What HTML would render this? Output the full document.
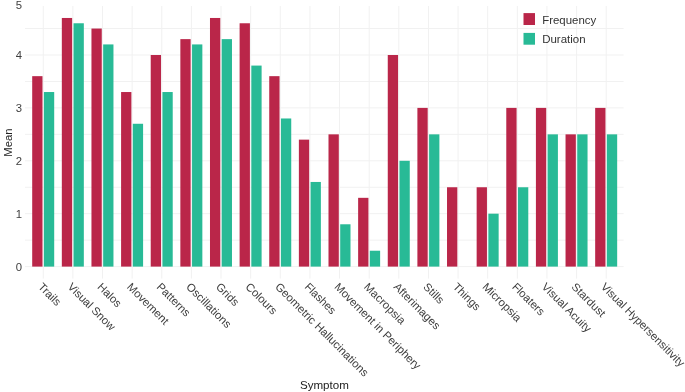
<!DOCTYPE html>
<html lang="en"><head><meta charset="utf-8"><title>Symptom chart</title>
<style>html,body{margin:0;padding:0;background:#fff;}body{width:685px;height:392px;overflow:hidden;}svg{display:block;}</style>
</head><body>
<svg width="685" height="392" viewBox="0 0 685 392" font-family="'Liberation Sans', sans-serif" font-size="11.3">
<rect width="685" height="392" fill="#fff"/>
<g stroke="#f1f1f1" stroke-width="1" fill="none">
<line x1="43.25" y1="6" x2="43.25" y2="278.6"/>
<line x1="72.88" y1="6" x2="72.88" y2="278.6"/>
<line x1="102.51" y1="6" x2="102.51" y2="278.6"/>
<line x1="132.14" y1="6" x2="132.14" y2="278.6"/>
<line x1="161.77" y1="6" x2="161.77" y2="278.6"/>
<line x1="191.40" y1="6" x2="191.40" y2="278.6"/>
<line x1="221.03" y1="6" x2="221.03" y2="278.6"/>
<line x1="250.66" y1="6" x2="250.66" y2="278.6"/>
<line x1="280.29" y1="6" x2="280.29" y2="278.6"/>
<line x1="309.92" y1="6" x2="309.92" y2="278.6"/>
<line x1="339.55" y1="6" x2="339.55" y2="278.6"/>
<line x1="369.18" y1="6" x2="369.18" y2="278.6"/>
<line x1="398.81" y1="6" x2="398.81" y2="278.6"/>
<line x1="428.44" y1="6" x2="428.44" y2="278.6"/>
<line x1="458.07" y1="6" x2="458.07" y2="278.6"/>
<line x1="487.70" y1="6" x2="487.70" y2="278.6"/>
<line x1="517.33" y1="6" x2="517.33" y2="278.6"/>
<line x1="546.96" y1="6" x2="546.96" y2="278.6"/>
<line x1="576.59" y1="6" x2="576.59" y2="278.6"/>
<line x1="606.22" y1="6" x2="606.22" y2="278.6"/>
<line x1="25" y1="266.60" x2="623.6" y2="266.60"/>
<line x1="25" y1="240.15" x2="623.6" y2="240.15"/>
<line x1="25" y1="213.70" x2="623.6" y2="213.70"/>
<line x1="25" y1="187.25" x2="623.6" y2="187.25"/>
<line x1="25" y1="160.80" x2="623.6" y2="160.80"/>
<line x1="25" y1="134.35" x2="623.6" y2="134.35"/>
<line x1="25" y1="107.90" x2="623.6" y2="107.90"/>
<line x1="25" y1="81.45" x2="623.6" y2="81.45"/>
<line x1="25" y1="55.00" x2="623.6" y2="55.00"/>
<line x1="25" y1="28.55" x2="623.6" y2="28.55"/>
</g>
<g>
<rect x="32.20" y="76.16" width="10.3" height="190.44" fill="#ba2649"/>
<rect x="43.90" y="92.03" width="10.3" height="174.57" fill="#28ba96"/>
<rect x="61.83" y="17.97" width="10.3" height="248.63" fill="#ba2649"/>
<rect x="73.53" y="23.26" width="10.3" height="243.34" fill="#28ba96"/>
<rect x="91.46" y="28.55" width="10.3" height="238.05" fill="#ba2649"/>
<rect x="103.16" y="44.42" width="10.3" height="222.18" fill="#28ba96"/>
<rect x="121.09" y="92.03" width="10.3" height="174.57" fill="#ba2649"/>
<rect x="132.79" y="123.77" width="10.3" height="142.83" fill="#28ba96"/>
<rect x="150.72" y="55.00" width="10.3" height="211.60" fill="#ba2649"/>
<rect x="162.42" y="92.03" width="10.3" height="174.57" fill="#28ba96"/>
<rect x="180.35" y="39.13" width="10.3" height="227.47" fill="#ba2649"/>
<rect x="192.05" y="44.42" width="10.3" height="222.18" fill="#28ba96"/>
<rect x="209.98" y="17.97" width="10.3" height="248.63" fill="#ba2649"/>
<rect x="221.68" y="39.13" width="10.3" height="227.47" fill="#28ba96"/>
<rect x="239.61" y="23.26" width="10.3" height="243.34" fill="#ba2649"/>
<rect x="251.31" y="65.58" width="10.3" height="201.02" fill="#28ba96"/>
<rect x="269.24" y="76.16" width="10.3" height="190.44" fill="#ba2649"/>
<rect x="280.94" y="118.48" width="10.3" height="148.12" fill="#28ba96"/>
<rect x="298.87" y="139.64" width="10.3" height="126.96" fill="#ba2649"/>
<rect x="310.57" y="181.96" width="10.3" height="84.64" fill="#28ba96"/>
<rect x="328.50" y="134.35" width="10.3" height="132.25" fill="#ba2649"/>
<rect x="340.20" y="224.28" width="10.3" height="42.32" fill="#28ba96"/>
<rect x="358.13" y="197.83" width="10.3" height="68.77" fill="#ba2649"/>
<rect x="369.83" y="250.73" width="10.3" height="15.87" fill="#28ba96"/>
<rect x="387.76" y="55.00" width="10.3" height="211.60" fill="#ba2649"/>
<rect x="399.46" y="160.80" width="10.3" height="105.80" fill="#28ba96"/>
<rect x="417.39" y="107.90" width="10.3" height="158.70" fill="#ba2649"/>
<rect x="429.09" y="134.35" width="10.3" height="132.25" fill="#28ba96"/>
<rect x="447.02" y="187.25" width="10.3" height="79.35" fill="#ba2649"/>
<rect x="476.65" y="187.25" width="10.3" height="79.35" fill="#ba2649"/>
<rect x="488.35" y="213.70" width="10.3" height="52.90" fill="#28ba96"/>
<rect x="506.28" y="107.90" width="10.3" height="158.70" fill="#ba2649"/>
<rect x="517.98" y="187.25" width="10.3" height="79.35" fill="#28ba96"/>
<rect x="535.91" y="107.90" width="10.3" height="158.70" fill="#ba2649"/>
<rect x="547.61" y="134.35" width="10.3" height="132.25" fill="#28ba96"/>
<rect x="565.54" y="134.35" width="10.3" height="132.25" fill="#ba2649"/>
<rect x="577.24" y="134.35" width="10.3" height="132.25" fill="#28ba96"/>
<rect x="595.17" y="107.90" width="10.3" height="158.70" fill="#ba2649"/>
<rect x="606.87" y="134.35" width="10.3" height="132.25" fill="#28ba96"/>
</g>
<g fill="#3e3e3e" text-anchor="end">
<text x="22.1" y="270.50">0</text>
<text x="22.1" y="217.60">1</text>
<text x="22.1" y="164.70">2</text>
<text x="22.1" y="111.80">3</text>
<text x="22.1" y="58.90">4</text>
<text x="22.1" y="8.70">5</text>
</g>
<g fill="#3e3e3e">
<text x="37.40" y="287.50" transform="rotate(45 37.40 287.50)" textLength="26.98" lengthAdjust="spacingAndGlyphs">Trails</text>
<text x="67.03" y="287.50" transform="rotate(45 67.03 287.50)" textLength="61.72" lengthAdjust="spacingAndGlyphs">Visual Snow</text>
<text x="96.66" y="287.50" transform="rotate(45 96.66 287.50)" textLength="28.87" lengthAdjust="spacingAndGlyphs">Halos</text>
<text x="126.29" y="287.50" transform="rotate(45 126.29 287.50)" textLength="53.60" lengthAdjust="spacingAndGlyphs">Movement</text>
<text x="155.92" y="287.50" transform="rotate(45 155.92 287.50)" textLength="42.27" lengthAdjust="spacingAndGlyphs">Patterns</text>
<text x="185.55" y="287.50" transform="rotate(45 185.55 287.50)" textLength="58.39" lengthAdjust="spacingAndGlyphs">Oscillations</text>
<text x="215.18" y="287.50" transform="rotate(45 215.18 287.50)" textLength="27.20" lengthAdjust="spacingAndGlyphs">Grids</text>
<text x="244.81" y="287.50" transform="rotate(45 244.81 287.50)" textLength="39.34" lengthAdjust="spacingAndGlyphs">Colours</text>
<text x="274.44" y="287.50" transform="rotate(45 274.44 287.50)" textLength="126.82" lengthAdjust="spacingAndGlyphs">Geometric Hallucinations</text>
<text x="304.07" y="287.50" transform="rotate(45 304.07 287.50)" textLength="38.71" lengthAdjust="spacingAndGlyphs">Flashes</text>
<text x="333.70" y="287.50" transform="rotate(45 333.70 287.50)" textLength="116.80" lengthAdjust="spacingAndGlyphs">Movement in Periphery</text>
<text x="363.33" y="287.50" transform="rotate(45 363.33 287.50)" textLength="53.16" lengthAdjust="spacingAndGlyphs">Macropsia</text>
<text x="392.96" y="287.50" transform="rotate(45 392.96 287.50)" textLength="60.48" lengthAdjust="spacingAndGlyphs">Afterimages</text>
<text x="422.59" y="287.50" transform="rotate(45 422.59 287.50)" textLength="24.06" lengthAdjust="spacingAndGlyphs">Stills</text>
<text x="452.22" y="287.50" transform="rotate(45 452.22 287.50)" textLength="33.70" lengthAdjust="spacingAndGlyphs">Things</text>
<text x="481.85" y="287.50" transform="rotate(45 481.85 287.50)" textLength="49.60" lengthAdjust="spacingAndGlyphs">Micropsia</text>
<text x="511.48" y="287.50" transform="rotate(45 511.48 287.50)" textLength="40.59" lengthAdjust="spacingAndGlyphs">Floaters</text>
<text x="541.11" y="287.50" transform="rotate(45 541.11 287.50)" textLength="64.46" lengthAdjust="spacingAndGlyphs">Visual Acuity</text>
<text x="570.74" y="287.50" transform="rotate(45 570.74 287.50)" textLength="42.91" lengthAdjust="spacingAndGlyphs">Stardust</text>
<text x="600.37" y="287.50" transform="rotate(45 600.37 287.50)" textLength="113.00" lengthAdjust="spacingAndGlyphs">Visual Hypersensitivity</text>
</g>
<text x="299.90" y="388.6" fill="#222" textLength="49.00" lengthAdjust="spacingAndGlyphs">Symptom</text>
<text x="0" y="0" fill="#222" transform="translate(12.1 156.63) rotate(-90)" textLength="28.26" lengthAdjust="spacingAndGlyphs">Mean</text>
<rect x="523.5" y="13.1" width="11.5" height="11.9" fill="#ba2649"/>
<rect x="523.5" y="32.9" width="11.5" height="11.8" fill="#28ba96"/>
<text x="542.2" y="23.75" fill="#333" textLength="54.01" lengthAdjust="spacingAndGlyphs">Frequency</text>
<text x="542.2" y="42.9" fill="#333" textLength="43.42" lengthAdjust="spacingAndGlyphs">Duration</text>
</svg>
</body></html>
